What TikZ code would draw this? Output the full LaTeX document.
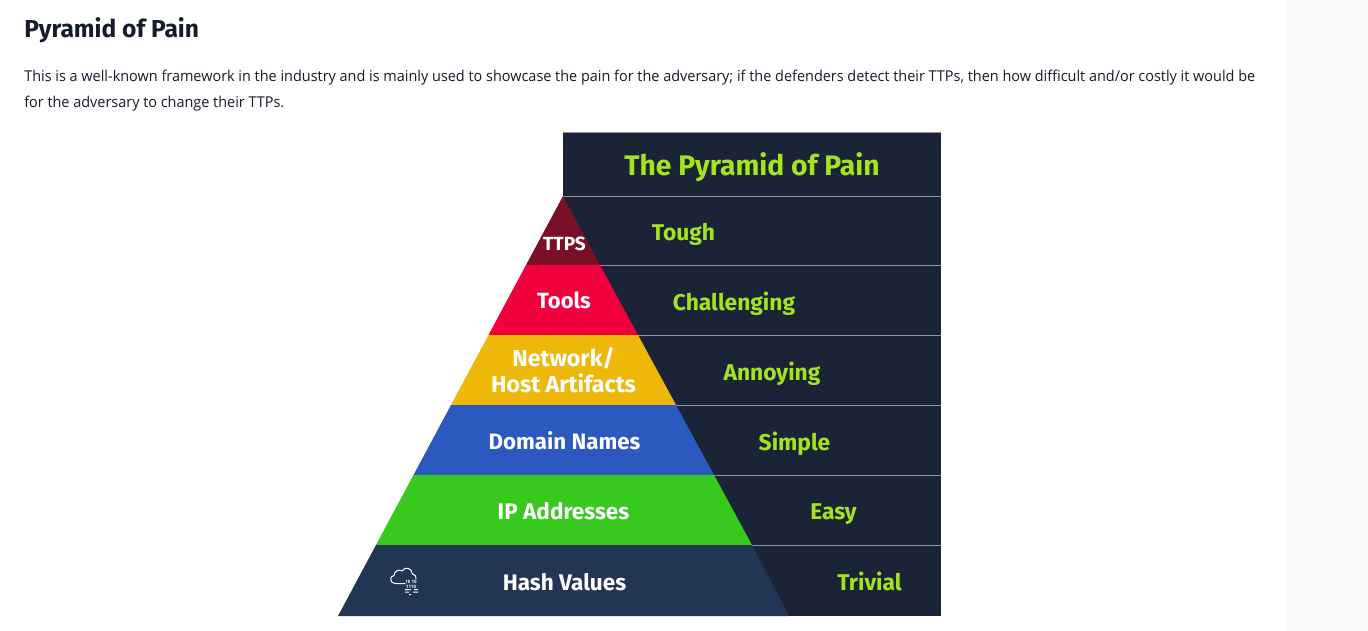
\documentclass[tikz,border=0pt]{standalone}
\usepackage{fontspec}
\setmainfont[FakeStretch=0.967]{Open Sans}
\newfontfamily\headf{Fira Sans}
\definecolor{panel}{HTML}{1B2336}
\definecolor{rule}{HTML}{8C95A6}
\definecolor{lime}{HTML}{A3E31F}
\definecolor{ink}{HTML}{151C2B}
\definecolor{side}{HTML}{F8F8FB}
\definecolor{cttp}{HTML}{7A1026}
\definecolor{ctool}{HTML}{F0003C}
\definecolor{cnet}{HTML}{EDB80A}
\definecolor{cdom}{HTML}{2B59BF}
\definecolor{cip}{HTML}{38C91F}
\definecolor{chash}{HTML}{223554}
\tikzset{
  x=0.75pt,y=-0.75pt,
  pl/.style={font=\headf\fontsize{16.7}{19}\selectfont\bfseries,text=white,align=center,inner sep=0pt,anchor=center},
  rt/.style={font=\headf\fontsize{17.1}{19}\selectfont\bfseries,text=lime,inner sep=0pt,anchor=center},
  para/.style={font=\fontsize{11.2}{14}\selectfont,text=ink,inner sep=0pt,anchor=base west},
  sep/.style={draw=rule,line width=0.7pt},
}
\begin{document}
\begin{tikzpicture}
\useasboundingbox (0,0) rectangle (1368,631);
\fill[white] (0,0) rectangle (1368,631);
\fill[side] (1286,0) rectangle (1368,631);
\node[font=\headf\fontsize{18.4}{22}\selectfont\bfseries,text=ink,inner sep=0pt,anchor=base west] (title) at (24,37.5) {Pyramid of Pain};
\node[para] (p1) at (24,82) {This is a well-known framework in the industry and is mainly used to showcase the pain for the adversary; if the defenders detect their TTPs, then how difficult and/or costly it would be};
\node[para] (p2) at (24,108) {for the adversary to change their TTPs.};
% panel
\fill[panel] (563,132) rectangle (941,616);
\draw[rule,line width=0.5pt] (563,132.5) -- (941,132.5);
\foreach \yy in {196,265,335,405,475,545}
  \draw[sep] (563,\yy) -- (941,\yy);
% pyramid
\fill[cttp]  (563,196) -- (600,265) -- (526,265) -- cycle;
\fill[ctool] (526,265) -- (600,265) -- (638,335) -- (488.5,335) -- cycle;
\fill[cnet]  (488.5,335) -- (638,335) -- (676,405) -- (451,405) -- cycle;
\fill[cdom]  (451,405) -- (676,405) -- (714,475) -- (413.5,475) -- cycle;
\fill[cip]   (413.5,475) -- (714,475) -- (752,545) -- (376,545) -- cycle;
\fill[chash] (376,545) -- (752,545) -- (789,616) -- (338,616) -- cycle;
% right labels
\node[font=\headf\fontsize{21.2}{25}\selectfont\bfseries,text=lime,inner sep=0pt] (head) at (752,167.5) {The Pyramid of Pain};
\node[rt] (l1) at (683.5,234) {Tough};
\node[rt] (l2) at (734,303.5) {Challenging};
\node[rt] (l3) at (772,374) {Annoying};
\node[rt] (l4) at (794.5,444) {Simple};
\node[rt] (l5) at (833.5,514) {Easy};
\node[rt] (l6) at (869.5,581.5) {Trivial};
% pyramid labels
\node[pl,font=\headf\fontsize{14.3}{15}\selectfont\bfseries] (n1) at (564.5,244) {TTPS};
\node[pl,font=\headf\fontsize{16.5}{19}\selectfont\bfseries] (n2) at (564,300.5) {Tools};
\node[pl,font=\headf\fontsize{17.4}{19.5}\selectfont\bfseries] (n3) at (563.5,370.5) {Network/\\Host Artifacts};
\node[pl] (n4) at (564.5,441) {Domain Names};
\node[pl,font=\headf\fontsize{16.9}{19}\selectfont\bfseries] (n5) at (563.5,511.5) {IP Addresses};
\node[pl,font=\headf\fontsize{16.9}{19}\selectfont\bfseries] (n6) at (564.5,582) {Hash Values};
% cloud icon
\draw[white,line width=0.75pt,line cap=round,line join=round]
  (405,583.5) -- (395,583.5)
  .. controls (390,583.5) and (389,576) .. (394,575.5)
  .. controls (394,571) and (399,569) .. (402,571)
  .. controls (405,566) and (412,568) .. (412.5,574)
  .. controls (415,574) and (417,577) .. (416,579);
\node[text=white,font=\fontsize{3.4}{3.8}\selectfont\bfseries,inner sep=0pt,align=center] (bits) at (411,584) {10 10\\1110};
\fill[white] (405,589) rectangle (411,590.2) (414,589) rectangle (418,590.2)
  (405,591.5) rectangle (409,592.7) (413,591.5) rectangle (418,592.7) (409,594) rectangle (411,595);
\end{tikzpicture}
\end{document}
